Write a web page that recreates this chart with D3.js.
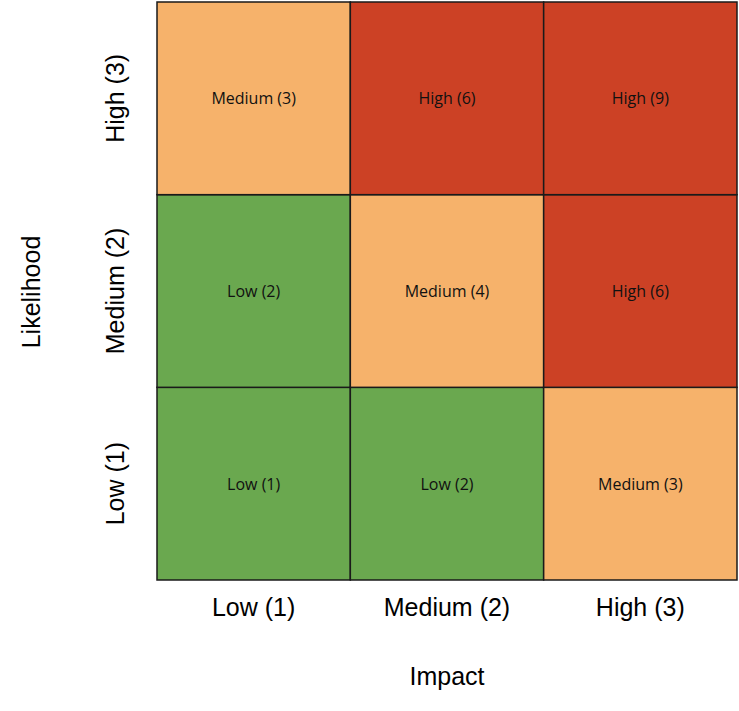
<!DOCTYPE html><html><head><meta charset="utf-8"><script src="https://d3js.org/d3.v7.min.js"></script>
<style>body{margin:0;background:#fff}</style></head><body><svg id="c" width="739" height="711"></svg>
<script>
const impactLabels=["Low (1)","Medium (2)","High (3)"];
const likelihoodLabels=["Low (1)","Medium (2)","High (3)"];
const levels={Low:"#6aa84f",Medium:"#f6b26b",High:"#cc4125"};
const cells=[];
for(let i=0;i<3;i++)for(let j=0;j<3;j++){const s=(i+1)*(j+1);const lvl=s>=6?"High":s>=3?"Medium":"Low";cells.push({x:impactLabels[i],y:likelihoodLabels[j],lvl,s});}
const svg=d3.select("#c");
const L=157,T=2,R=737,B=580;
const x=d3.scaleBand().domain(impactLabels).range([L,R]);
const y=d3.scaleBand().domain(likelihoodLabels).range([B,T]);
svg.selectAll("rect.c").data(cells).join("rect").attr("x",d=>x(d.x)).attr("y",d=>y(d.y)).attr("width",x.bandwidth()).attr("height",y.bandwidth()).attr("fill",d=>levels[d.lvl]).attr("stroke","#1a1a1a").attr("stroke-width",1.5);
svg.selectAll("text.c").data(cells).join("text").attr("x",d=>x(d.x)+x.bandwidth()/2).attr("y",d=>y(d.y)+y.bandwidth()/2).attr("text-anchor","middle").attr("dominant-baseline","central").attr("font-family","Open Sans, sans-serif").attr("font-size",16).attr("fill","#111").text(d=>`${d.lvl} (${d.s})`);
svg.selectAll("text.xt").data(impactLabels).join("text").attr("x",d=>x(d)+x.bandwidth()/2).attr("y",616).attr("text-anchor","middle").attr("font-family","Liberation Sans, Arial").attr("font-size",25).text(d=>d);
svg.selectAll("text.yt").data(likelihoodLabels).join("text").attr("transform",d=>`translate(124,${y(d)+y.bandwidth()/2}) rotate(-90)`).attr("text-anchor","middle").attr("font-family","Liberation Sans, Arial").attr("font-size",25).text(d=>d);
svg.append("text").attr("x",447).attr("y",685).attr("text-anchor","middle").attr("font-family","Liberation Sans, Arial").attr("font-size",25).text("Impact");
svg.append("text").attr("transform","translate(40,292) rotate(-90)").attr("text-anchor","middle").attr("font-family","Liberation Sans, Arial").attr("font-size",25).text("Likelihood");
</script></body></html>
